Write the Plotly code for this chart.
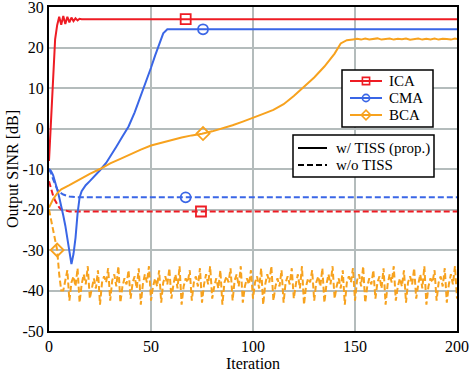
import numpy as np
import plotly.graph_objects as go

# ---------------- data ----------------
ica_x = [0, 1, 2, 3, 4, 5, 6, 7, 8, 9, 10, 11, 12, 13, 14, 15, 16, 200]
ica_y = [-8, 2, 14, 22, 25.5, 27.6, 25.6, 27.8, 25.8, 27.6, 26.2, 27.4, 26.5, 27.2, 26.7, 27.1, 27, 27]

ica_nt_x = [0, 1, 2, 3, 4, 5, 6, 8, 10, 200]
ica_nt_y = [-13, -15, -16.6, -17.8, -18.8, -19.5, -20, -20.3, -20.5, -20.5]

cma_x = [0, 1, 2, 3, 4, 5, 6, 7, 8, 9, 10, 11, 12, 13, 14, 15, 16, 18, 20, 23, 25, 28, 30,
         33, 36, 39, 42, 45, 48, 50, 52, 54, 56, 58, 200]
cma_y = [-10, -10.5, -11.5, -13, -15, -17, -19, -21.5, -24, -27, -30, -33.5, -31, -27, -21, -17,
         -15.5, -14, -13, -11.5, -10.3, -8.5, -7, -4.5, -2, 0.5, 4, 8, 12, 15, 18, 21, 23.5, 24.5, 24.5]

cma_nt_x = [0, 1, 2, 3, 4, 5, 7, 10, 14, 200]
cma_nt_y = [-10, -11, -12.5, -14, -15, -15.7, -16.3, -16.8, -17, -17]

bca_x = [0, 2, 4, 6, 10, 15, 20, 25, 30, 35, 40, 45, 50, 55, 60, 65, 70, 75, 80, 85, 90, 95,
         100, 105, 110, 115, 120, 125, 130, 135, 140, 143, 146,
         149, 151, 153, 155, 157, 159, 161, 163, 165, 167, 169, 171, 173, 175, 177, 179, 181,
         183, 185, 187, 189, 191, 193, 195, 197, 199, 200]
bca_y = [-19.5, -17.5, -16, -15, -14, -12.5, -11.2, -10, -8.6, -7.5, -6.3, -5.2, -4.2, -3.5, -2.8,
         -2.2, -1.7, -1.3, -0.7, 0, 0.8, 1.7, 2.6, 3.6, 4.6, 6, 8, 10.2, 12.6, 15.3, 18.5, 21, 21.8,
         22.0, 22.15, 21.95, 22.2, 22.0, 22.1, 22.25, 21.95, 22.1, 22.2, 21.95, 22.15, 22.05, 22.2,
         21.9, 22.1, 22.2, 21.95, 22.15, 22.0, 22.2, 21.95, 22.15, 22.1, 21.95, 22.2, 22.1]

bca_nt_y = [
    -20, -22.5, -25, -27.5, -30, -36, -40, -40, -37,
    -35, -42.5, -38, -36.5, -39, -34.5, -43, -38.5, -36, -38.5,
    -34, -42, -39, -37, -39.5, -35, -43.5, -38, -36.5, -38,
    -34.5, -42.5, -37.5, -36, -39, -34, -43, -39, -37, -38.5,
    -35, -42, -38, -36.5, -39.5, -34.5, -43.5, -38.5, -36, -38,
    -34, -42.5, -39, -37, -39, -35, -43, -38, -36.5, -38.5,
    -34.5, -42, -38.5, -36, -39.5, -34, -43.5, -39, -37, -38,
    -35, -42.5, -38, -36.5, -39, -34.5, -43, -38.5, -36, -38.5,
    -34, -42, -39, -37, -39.5, -35, -43.5, -38, -36.5, -38,
    -34.5, -42.5, -37.5, -36, -39, -34, -43, -39, -37, -38.5,
    -35, -42, -38, -36.5, -39.5, -34.5, -43.5, -38.5, -36, -38,
    -34, -42.5, -39, -37, -39, -35, -43, -38, -36.5, -38.5,
    -34.5, -42, -38.5, -36, -39.5, -34, -43.5, -39, -37, -38,
    -35, -42.5, -38, -36.5, -39, -34.5, -43, -38.5, -36, -38.5,
    -34, -42, -39, -37, -39.5, -35, -43.5, -38, -36.5, -38,
    -34.5, -42.5, -37.5, -36, -39, -34, -43, -39, -37, -38.5,
    -35, -42, -38, -36.5, -39.5, -34.5, -43.5, -38.5, -36, -38,
    -34, -42.5, -39, -37, -39, -35, -43, -38, -36.5, -38.5,
    -34.5, -42, -38.5, -36, -39.5, -34, -43.5, -39, -37, -38,
    -35, -42.5, -38, -36.5, -39, -34.5, -43, -38.5, -36, -38.5,
    -34, -42,
]
bca_nt_x = list(range(len(bca_nt_y)))

# marker positions (x) for each curve: [with TISS, without TISS]
ica_mark_x = [67, 74.5]
cma_mark_x = [75.5, 67]
bca_mark_x = [75.5, 4]

x_ticks = [0, 50, 100, 150, 200]
y_ticks = [30, 20, 10, 0, -10, -20, -30, -40, -50]

names = ["ICA", "CMA", "BCA"]
legend2_names = ["w/ TISS (prop.)", "w/o TISS"]

# ---------------- style ----------------
RED = "#ee1c24"
BLUE = "#3a66e6"
ORANGE = "#f7a21e"
FONT = "Liberation Serif"
DASH = "6px,3px"
W, H = 474, 372
ML, MR, MT, MB = 49, 17, 7, 41
PW, PH = W - ML - MR, H - MT - MB


def px(x):  # pixel -> paper x
    return (x - ML) / PW


def py(y):  # pixel -> paper y
    return (H - MB - y) / PH


fig = go.Figure()

series = [
    (names[0], RED, "square-open", ica_x, ica_y, ica_nt_x, ica_nt_y, ica_mark_x),
    (names[1], BLUE, "circle-open", cma_x, cma_y, cma_nt_x, cma_nt_y, cma_mark_x),
    (names[2], ORANGE, "diamond-open", bca_x, bca_y, bca_nt_x, bca_nt_y, bca_mark_x),
]

for name, col, sym, xs, ys, xn, yn, mx in series:
    fig.add_trace(go.Scatter(x=xn, y=yn, mode="lines", name=name + " (w/o TISS)", showlegend=False,
                             line=dict(color=col, width=2, dash=DASH)))
    fig.add_trace(go.Scatter(x=xs, y=ys, mode="lines", name=name, showlegend=False,
                             line=dict(color=col, width=2)))
for name, col, sym, xs, ys, xn, yn, mx in series:
    my = [float(np.interp(mx[0], xs, ys)), float(np.interp(mx[1], xn, yn))]
    fig.add_trace(go.Scatter(x=mx, y=my, mode="markers", showlegend=False,
                             marker=dict(symbol=sym, size=10, color=col,
                                         line=dict(color=col, width=1.8))))

# ---------------- hand-built legends (shapes + text) ----------------
shapes = []
annots = []
# legend 1 box
shapes.append(dict(type="rect", xref="paper", yref="paper", layer="above",
                   x0=px(342), x1=px(433), y0=py(127), y1=py(70),
                   fillcolor="white", line=dict(color="black", width=1.5)))
# legend 2 box
shapes.append(dict(type="rect", xref="paper", yref="paper", layer="above",
                   x0=px(293), x1=px(434), y0=py(177), y1=py(135),
                   fillcolor="white", line=dict(color="black", width=1.5)))

row_y = [81, 98, 115]
lx0, lx1, mcx, r = 350, 382, 366, 3.6
for (name, col, sym, *_), ry in zip(series, row_y):
    shapes.append(dict(type="line", xref="paper", yref="paper", layer="above",
                       x0=px(lx0), x1=px(lx1), y0=py(ry), y1=py(ry),
                       line=dict(color=col, width=2)))
    if sym.startswith("square"):
        shapes.append(dict(type="rect", xref="paper", yref="paper", layer="above",
                           x0=px(mcx - r), x1=px(mcx + r), y0=py(ry + r), y1=py(ry - r),
                           line=dict(color=col, width=1.6)))
    elif sym.startswith("circle"):
        shapes.append(dict(type="circle", xref="paper", yref="paper", layer="above",
                           x0=px(mcx - r), x1=px(mcx + r), y0=py(ry + r), y1=py(ry - r),
                           line=dict(color=col, width=1.6)))
    else:
        d = r + 1.2
        path = (f"M {px(mcx - d)},{py(ry)} L {px(mcx)},{py(ry - d)} "
                f"L {px(mcx + d)},{py(ry)} L {px(mcx)},{py(ry + d)} Z")
        shapes.append(dict(type="path", xref="paper", yref="paper", layer="above",
                           path=path, line=dict(color=col, width=1.6)))
    annots.append(dict(x=px(387), y=py(ry), xref="paper", yref="paper", text=name,
                       showarrow=False, xanchor="left", yanchor="middle",
                       font=dict(family=FONT, size=15, color="black")))

row2_y = [148, 165]
for label, ry, dash in zip(legend2_names, row2_y, ["solid", DASH]):
    shapes.append(dict(type="line", xref="paper", yref="paper", layer="above",
                       x0=px(298), x1=px(327), y0=py(ry), y1=py(ry),
                       line=dict(color="black", width=2, dash=dash)))
    annots.append(dict(x=px(334), y=py(ry), xref="paper", yref="paper", text=label,
                       showarrow=False, xanchor="left", yanchor="middle",
                       font=dict(family=FONT, size=15, color="black")))

axis_common = dict(showline=True, linecolor="black", linewidth=2, mirror=True,
                   showgrid=True, gridcolor="#b4bcbc", gridwidth=1.5, zeroline=False,
                   automargin=False, ticklabeloverflow="allow",
                   ticks="", tickfont=dict(family=FONT, size=16, color="black"))

fig.update_layout(
    width=W, height=H,
    margin=dict(l=ML, r=MR, t=MT, b=MB, autoexpand=False),
    paper_bgcolor="white", plot_bgcolor="white",
    font=dict(family=FONT, size=15, color="black"),
    xaxis=dict(range=[0, 200], tickvals=x_ticks, ticktext=[str(v) for v in x_ticks],
               title=dict(text="Iteration", font=dict(family=FONT, size=16), standoff=0),
               **axis_common),
    yaxis=dict(range=[-50, 30], tickvals=y_ticks, ticktext=[str(v) for v in y_ticks],
               title=dict(text="Output SINR [dB]", font=dict(family=FONT, size=16), standoff=0),
               **axis_common),
    shapes=shapes,
    annotations=annots,
    showlegend=False,
)

fig.write_html("out.html", config={"displayModeBar": False},
               post_script="document.body.style.margin='0';document.body.style.overflow='hidden';")
